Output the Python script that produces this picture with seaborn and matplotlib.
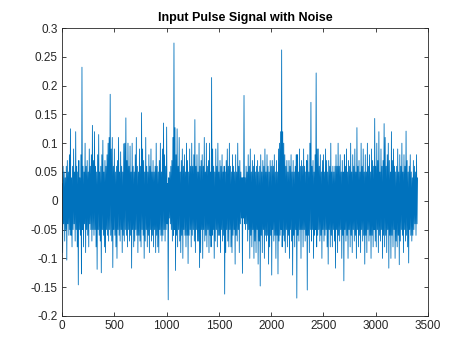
import numpy as np
import pandas as pd
import matplotlib
matplotlib.use("Agg")
import matplotlib.pyplot as plt
import seaborn as sns

# values, one every 5 samples
step = 5
signal = [
    0.03, -0.09, 0.06, -0.04, 0.05, -0.07, 0.04, -0.05, 0.06, -0.103,
    0.07, -0.04, 0.05, -0.06, 0.08, -0.05, 0.125, -0.06, 0.04, -0.08,
    0.06, -0.05, 0.09, -0.04, 0.05, -0.07, 0.12, -0.05, 0.06, -0.08,
    0.05, -0.146, 0.07, -0.05, 0.04, -0.06, 0.08, -0.127, 0.232, -0.05,
    0.06, -0.08, 0.05, -0.04, 0.1, -0.09, 0.06, -0.05, 0.07, -0.06,
    0.05, -0.08, 0.09, -0.04, 0.06, -0.05, 0.08, -0.07, 0.131, -0.05,
    0.07, -0.06, 0.12, -0.05, 0.06, -0.08, 0.05, -0.119, 0.08, -0.05,
    0.115, -0.06, 0.05, -0.07, 0.06, -0.125, 0.08, -0.05, 0.105, -0.06,
    0.05, -0.08, 0.07, -0.09, 0.06, -0.05, 0.08, -0.06, 0.1, -0.07,
    0.11, -0.05, 0.185, -0.06, 0.09, -0.07, 0.11, -0.116, 0.06, -0.05,
    0.09, -0.06, 0.05, -0.08, 0.06, -0.1, 0.07, -0.05, 0.11, -0.06,
    0.05, -0.07, 0.085, -0.05, 0.06, -0.09, 0.05, -0.06, 0.099, -0.07,
    0.1, -0.05, 0.144, -0.06, 0.07, -0.08, 0.1, -0.05, 0.06, -0.07,
    0.095, -0.06, 0.05, -0.117, 0.1, -0.05, 0.06, -0.08, 0.05, -0.07,
    0.08, -0.05, 0.11, -0.06, 0.06, -0.09, 0.05, -0.06, 0.09, -0.07,
    0.06, -0.08, 0.153, -0.05, 0.09, -0.06, 0.07, -0.1, 0.05, -0.07,
    0.11, -0.05, 0.06, -0.08, 0.05, -0.06, 0.08, -0.09, 0.06, -0.05,
    0.09, -0.07, 0.05, -0.06, 0.07, -0.08, 0.05, -0.05, 0.06, -0.09,
    0.1, -0.06, 0.06, -0.08, 0.05, -0.09, 0.07, -0.05, 0.1, -0.06,
    0.05, -0.07, 0.09, -0.06, 0.135, -0.05, 0.08, -0.07, 0.06, -0.05,
    0.128, -0.04, 0.03, -0.172, 0.04, -0.03, 0.05, -0.04, 0.06, -0.05,
    0.07, -0.07, 0.11, -0.06, 0.274, -0.05, 0.127, -0.121, 0.08, -0.06,
    0.125, -0.08, 0.06, -0.05, 0.11, -0.07, 0.05, -0.09, 0.07, -0.06,
    0.09, -0.1, 0.06, -0.05, 0.08, -0.06, 0.05, -0.08, 0.1, -0.06,
    0.07, -0.109, 0.05, -0.06, 0.09, -0.05, 0.06, -0.08, 0.1, -0.06,
    0.06, -0.05, 0.08, -0.07, 0.141, -0.09, 0.06, -0.05, 0.08, -0.07,
    0.05, -0.07, 0.1, -0.116, 0.06, -0.09, 0.07, -0.05, 0.08, -0.1,
    0.06, -0.05, 0.11, -0.07, 0.05, -0.06, 0.1, -0.08, 0.06, -0.05,
    0.07, -0.09, 0.1, -0.06, 0.05, -0.08, 0.214, -0.06, 0.09, -0.05,
    0.06, -0.1, 0.05, -0.07, 0.09, -0.05, 0.06, -0.08, 0.1, -0.06,
    0.05, -0.06, 0.07, -0.09, 0.06, -0.05, 0.08, -0.07, 0.05, -0.06,
    0.06, -0.162, 0.05, -0.09, 0.07, -0.05, 0.09, -0.07, 0.06, -0.08,
    0.1, -0.05, 0.06, -0.08, 0.05, -0.09, 0.08, -0.06, 0.06, -0.05,
    0.05, -0.11, 0.08, -0.06, 0.05, -0.07, 0.1, -0.05, 0.06, -0.09,
    0.07, -0.04, 0.05, -0.03, 0.04, -0.126, 0.04, -0.03, 0.183, -0.04,
    0.04, -0.05, 0.06, -0.04, 0.05, -0.07, 0.08, -0.05, 0.06, -0.1,
    0.09, -0.06, 0.05, -0.08, 0.07, -0.05, 0.06, -0.1, 0.08, -0.07,
    0.05, -0.09, 0.06, -0.05, 0.07, -0.11, 0.05, -0.07, 0.06, -0.148,
    0.08, -0.06, 0.05, -0.09, 0.07, -0.05, 0.06, -0.1, 0.09, -0.06,
    0.05, -0.07, 0.08, -0.06, 0.06, -0.11, 0.05, -0.08, 0.07, -0.06,
    0.06, -0.129, 0.07, -0.05, 0.06, -0.07, 0.08, -0.06, 0.05, -0.1,
    0.07, -0.06, 0.05, -0.127, 0.09, -0.07, 0.1, -0.06, 0.12, -0.05,
    0.262, -0.08, 0.12, -0.06, 0.1, -0.07, 0.08, -0.09, 0.06, -0.05,
    0.07, -0.08, 0.05, -0.06, 0.07, -0.1, 0.06, -0.05, 0.08, -0.07,
    0.05, -0.129, 0.07, -0.06, 0.05, -0.08, 0.06, -0.05, 0.08, -0.169,
    0.08, -0.06, 0.05, -0.07, 0.09, -0.05, 0.06, -0.1, 0.07, -0.05,
    0.06, -0.08, 0.09, -0.05, 0.06, -0.07, 0.05, -0.06, 0.07, -0.155,
    0.08, -0.06, 0.05, -0.09, 0.1, -0.05, 0.171, -0.07, 0.06, -0.05,
    0.07, -0.1, 0.05, -0.06, 0.08, -0.05, 0.222, -0.08, 0.09, -0.06,
    0.09, -0.05, 0.06, -0.07, 0.08, -0.06, 0.05, -0.1, 0.07, -0.05,
    0.08, -0.07, 0.05, -0.06, 0.09, -0.05, 0.07, -0.08, 0.05, -0.11,
    0.07, -0.05, 0.06, -0.08, 0.1, -0.06, 0.05, -0.08, 0.06, -0.05,
    0.05, -0.07, 0.06, -0.117, 0.08, -0.05, 0.06, -0.09, 0.1, -0.06,
    0.06, -0.07, 0.08, -0.05, 0.05, -0.1, 0.07, -0.06, 0.05, -0.139,
    0.08, -0.05, 0.06, -0.07, 0.09, -0.06, 0.05, -0.1, 0.07, -0.05,
    0.06, -0.08, 0.1, -0.06, 0.05, -0.09, 0.08, -0.05, 0.06, -0.07,
    0.09, -0.06, 0.05, -0.1, 0.127, -0.05, 0.06, -0.08, 0.07, -0.06,
    0.05, -0.09, 0.1, -0.05, 0.06, -0.07, 0.09, -0.06, 0.05, -0.11,
    0.08, -0.06, 0.05, -0.09, 0.1, -0.05, 0.06, -0.07, 0.08, -0.06,
    0.05, -0.1, 0.09, -0.06, 0.07, -0.08, 0.06, -0.05, 0.143, -0.07,
    0.06, -0.08, 0.1, -0.05, 0.07, -0.09, 0.12, -0.06, 0.05, -0.07,
    0.09, -0.05, 0.06, -0.1, 0.07, -0.06, 0.134, -0.08, 0.11, -0.06,
    0.06, -0.09, 0.08, -0.05, 0.1, -0.117, 0.07, -0.06, 0.05, -0.1,
    0.12, -0.06, 0.07, -0.08, 0.09, -0.05, 0.06, -0.1, 0.05, -0.07,
    0.06, -0.08, 0.09, -0.06, 0.05, -0.111, 0.08, -0.07, 0.06, -0.05,
    0.1, -0.06, 0.05, -0.09, 0.08, -0.05, 0.06, -0.07, 0.121, -0.06,
    0.07, -0.08, 0.05, -0.108, 0.06, -0.05, 0.08, -0.06, 0.05, -0.07,
    0.04, -0.06, 0.07, -0.05, 0.06, -0.04, 0.05, -0.06, 0.08, -0.04,
    0.04,
]
sample = np.arange(len(signal)) * step

xticks = [0, 500, 1000, 1500, 2000, 2500, 3000, 3500]
yticks = [-0.2, -0.15, -0.1, -0.05, 0, 0.05, 0.1, 0.15, 0.2, 0.25, 0.3]
ytick_labels = ["-0.2", "-0.15", "-0.1", "-0.05", "0", "0.05", "0.1", "0.15", "0.2", "0.25", "0.3"]

sns.set_style("white")
plt.rcParams["font.family"] = ["Liberation Sans", "DejaVu Sans"]

df = pd.DataFrame({"n": sample, "amp": signal})

fig = plt.figure(figsize=(4.74, 3.55), dpi=100)
ax = fig.add_axes([0.131, 0.110, 0.772, 0.811])
sns.lineplot(data=df, x="n", y="amp", ax=ax, color="#0072BD", lw=0.6, estimator=None)

ax.set_xlim(0, 3500)
ax.set_ylim(-0.2, 0.3)
ax.set_xticks(xticks)
ax.set_xticklabels([str(t) for t in xticks])
ax.set_yticks(yticks)
ax.set_yticklabels(ytick_labels)
ax.set_xlabel("")
ax.set_ylabel("")
ax.set_title("Input Pulse Signal with Noise", fontsize=9, fontweight="bold", color="black", pad=5)

for s in ax.spines.values():
    s.set_visible(True)
    s.set_color("#262626")
    s.set_linewidth(0.6)
ax.tick_params(direction="in", length=3, width=0.6, colors="#262626", labelsize=8.5,
               top=True, right=True, bottom=True, left=True, pad=3)

fig.savefig("out.png", dpi=100)
